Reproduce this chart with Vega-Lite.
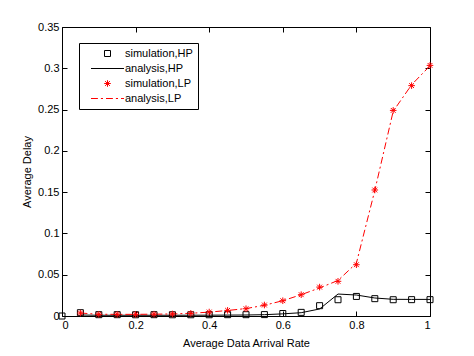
{
  "$schema": "https://vega.github.io/schema/vega-lite/v6.json",
  "autosize": "none",
  "width": 368,
  "height": 289,
  "padding": {"left": 62, "top": 27, "right": 44, "bottom": 40},
  "background": "white",
  "config": {
    "font": "Liberation Sans",
    "view": {"stroke": "black", "strokeWidth": 1},
    "axis": {
      "grid": false,
      "domain": false,
      "tickColor": "black",
      "tickSize": -5,
      "labelFont": "Liberation Sans",
      "labelFontSize": 11,
      "labelColor": "black",
      "titleFont": "Liberation Sans",
      "titleFontSize": 11,
      "titleFontWeight": "normal",
      "titleColor": "black"
    },
    "legend": {
      "labelFont": "Liberation Sans",
      "labelFontSize": 11,
      "labelColor": "black"
    }
  },
  "datasets": {
    "sim": [
      {"series": "simulation,HP", "rate": 0.0, "delay": 0.0},
      {"series": "simulation,HP", "rate": 0.05, "delay": 0.004},
      {"series": "simulation,HP", "rate": 0.1, "delay": 0.0016},
      {"series": "simulation,HP", "rate": 0.15, "delay": 0.0016},
      {"series": "simulation,HP", "rate": 0.2, "delay": 0.0015},
      {"series": "simulation,HP", "rate": 0.25, "delay": 0.0016},
      {"series": "simulation,HP", "rate": 0.3, "delay": 0.0015},
      {"series": "simulation,HP", "rate": 0.35, "delay": 0.0015},
      {"series": "simulation,HP", "rate": 0.4, "delay": 0.0015},
      {"series": "simulation,HP", "rate": 0.45, "delay": 0.0016},
      {"series": "simulation,HP", "rate": 0.5, "delay": 0.0016},
      {"series": "simulation,HP", "rate": 0.55, "delay": 0.0017},
      {"series": "simulation,HP", "rate": 0.6, "delay": 0.003},
      {"series": "simulation,HP", "rate": 0.65, "delay": 0.0044},
      {"series": "simulation,HP", "rate": 0.7, "delay": 0.0125},
      {"series": "simulation,HP", "rate": 0.75, "delay": 0.0197},
      {"series": "simulation,HP", "rate": 0.8, "delay": 0.0237},
      {"series": "simulation,HP", "rate": 0.85, "delay": 0.021},
      {"series": "simulation,HP", "rate": 0.9, "delay": 0.0197},
      {"series": "simulation,HP", "rate": 0.95, "delay": 0.0198},
      {"series": "simulation,HP", "rate": 1.0, "delay": 0.0198},
      {"series": "simulation,LP", "rate": 0.05, "delay": 0.0036},
      {"series": "simulation,LP", "rate": 0.1, "delay": 0.002},
      {"series": "simulation,LP", "rate": 0.15, "delay": 0.002},
      {"series": "simulation,LP", "rate": 0.2, "delay": 0.002},
      {"series": "simulation,LP", "rate": 0.25, "delay": 0.0022},
      {"series": "simulation,LP", "rate": 0.3, "delay": 0.0024},
      {"series": "simulation,LP", "rate": 0.35, "delay": 0.0032},
      {"series": "simulation,LP", "rate": 0.4, "delay": 0.0048},
      {"series": "simulation,LP", "rate": 0.45, "delay": 0.0068},
      {"series": "simulation,LP", "rate": 0.5, "delay": 0.0088},
      {"series": "simulation,LP", "rate": 0.55, "delay": 0.0133},
      {"series": "simulation,LP", "rate": 0.6, "delay": 0.0185},
      {"series": "simulation,LP", "rate": 0.65, "delay": 0.0258},
      {"series": "simulation,LP", "rate": 0.7, "delay": 0.035},
      {"series": "simulation,LP", "rate": 0.75, "delay": 0.042},
      {"series": "simulation,LP", "rate": 0.8, "delay": 0.0621},
      {"series": "simulation,LP", "rate": 0.85, "delay": 0.1526},
      {"series": "simulation,LP", "rate": 0.9, "delay": 0.249},
      {"series": "simulation,LP", "rate": 0.95, "delay": 0.279},
      {"series": "simulation,LP", "rate": 1.0, "delay": 0.3035}
    ],
    "analysis": [
      {"series": "analysis,HP", "rate": 0.05, "delay": 0.0012},
      {"series": "analysis,HP", "rate": 0.1, "delay": 0.0009},
      {"series": "analysis,HP", "rate": 0.2, "delay": 0.0009},
      {"series": "analysis,HP", "rate": 0.3, "delay": 0.0009},
      {"series": "analysis,HP", "rate": 0.4, "delay": 0.001},
      {"series": "analysis,HP", "rate": 0.5, "delay": 0.0012},
      {"series": "analysis,HP", "rate": 0.55, "delay": 0.0016},
      {"series": "analysis,HP", "rate": 0.6, "delay": 0.0026},
      {"series": "analysis,HP", "rate": 0.65, "delay": 0.004},
      {"series": "analysis,HP", "rate": 0.7, "delay": 0.0085},
      {"series": "analysis,HP", "rate": 0.75, "delay": 0.0266},
      {"series": "analysis,HP", "rate": 0.8, "delay": 0.0254},
      {"series": "analysis,HP", "rate": 0.85, "delay": 0.0218},
      {"series": "analysis,HP", "rate": 0.9, "delay": 0.0202},
      {"series": "analysis,HP", "rate": 0.95, "delay": 0.0201},
      {"series": "analysis,HP", "rate": 1.0, "delay": 0.0201},
      {"series": "analysis,LP", "rate": 0.05, "delay": 0.0036},
      {"series": "analysis,LP", "rate": 0.1, "delay": 0.0021},
      {"series": "analysis,LP", "rate": 0.15, "delay": 0.002},
      {"series": "analysis,LP", "rate": 0.2, "delay": 0.002},
      {"series": "analysis,LP", "rate": 0.25, "delay": 0.0022},
      {"series": "analysis,LP", "rate": 0.3, "delay": 0.0025},
      {"series": "analysis,LP", "rate": 0.35, "delay": 0.0033},
      {"series": "analysis,LP", "rate": 0.4, "delay": 0.0047},
      {"series": "analysis,LP", "rate": 0.45, "delay": 0.0067},
      {"series": "analysis,LP", "rate": 0.5, "delay": 0.009},
      {"series": "analysis,LP", "rate": 0.55, "delay": 0.013},
      {"series": "analysis,LP", "rate": 0.6, "delay": 0.0185},
      {"series": "analysis,LP", "rate": 0.65, "delay": 0.0258},
      {"series": "analysis,LP", "rate": 0.7, "delay": 0.034},
      {"series": "analysis,LP", "rate": 0.75, "delay": 0.043},
      {"series": "analysis,LP", "rate": 0.8, "delay": 0.064},
      {"series": "analysis,LP", "rate": 0.85, "delay": 0.152},
      {"series": "analysis,LP", "rate": 0.9, "delay": 0.248},
      {"series": "analysis,LP", "rate": 0.95, "delay": 0.28},
      {"series": "analysis,LP", "rate": 1.0, "delay": 0.303}
    ]
  },
  "layer": [
    {
      "data": {"name": "analysis"},
      "transform": [{"filter": "datum.series == 'analysis,HP'"}],
      "mark": {"type": "line", "strokeWidth": 1, "clip": true, "color": "black"},
      "encoding": {
        "x": {
          "field": "rate", "type": "quantitative",
          "scale": {"domain": [0, 1], "nice": false},
          "axis": {"title": "Average Data Arrival Rate", "values": [0, 0.2, 0.4, 0.6, 0.8, 1], "format": "~g", "labelPadding": 8, "titlePadding": 7}
        },
        "y": {
          "field": "delay", "type": "quantitative",
          "scale": {"domain": [0, 0.35], "nice": false, "zero": true},
          "axis": {"title": "Average Delay", "values": [0, 0.05, 0.1, 0.15, 0.2, 0.25, 0.3, 0.35], "format": "~g", "labelPadding": 8, "titlePadding": 5}
        }
      }
    },
    {
      "data": {"name": "analysis"},
      "transform": [{"filter": "datum.series == 'analysis,LP'"}],
      "mark": {"type": "line", "strokeWidth": 1, "clip": true, "strokeDash": [7, 3, 2, 3], "color": "red"},
      "encoding": {
        "x": {"field": "rate", "type": "quantitative", "axis": null},
        "y": {"field": "delay", "type": "quantitative", "axis": null}
      }
    },
    {
      "data": {"name": "sim"},
      "mark": {"type": "point", "filled": false, "strokeWidth": 1, "size": 36, "opacity": 1, "clip": false},
      "encoding": {
        "x": {
          "field": "rate", "type": "quantitative",
          "axis": {"orient": "top", "title": null, "labels": false, "values": [0, 0.2, 0.4, 0.6, 0.8, 1]}
        },
        "y": {
          "field": "delay", "type": "quantitative",
          "axis": {"orient": "right", "title": null, "labels": false, "values": [0, 0.05, 0.1, 0.15, 0.2, 0.25, 0.3, 0.35]}
        },
        "color": {
          "field": "series", "type": "nominal",
          "scale": {
            "domain": ["simulation,HP", "analysis,HP", "simulation,LP", "analysis,LP"],
            "range": ["black", "black", "red", "red"]
          },
          "legend": {
            "title": null,
            "orient": "none",
            "legendX": 17,
            "legendY": 16,
            "strokeColor": "black",
            "fillColor": "white",
            "padding": 5,
            "cornerRadius": 0,
            "symbolSize": 36,
            "symbolStrokeWidth": 1,
            "symbolFillColor": "transparent",
            "symbolOffset": 18,
            "labelOffset": 12,
            "rowPadding": 3
          }
        },
        "shape": {
          "field": "series", "type": "nominal",
          "scale": {
            "domain": ["simulation,HP", "analysis,HP", "simulation,LP", "analysis,LP"],
            "range": [
              "M-1,-1H1V1H-1Z",
              "M-5.5,0H5.5",
              "M0,-1.1V1.1M-1.1,0H1.1M-0.8,-0.8L0.8,0.8M-0.8,0.8L0.8,-0.8",
              "M-5.5,0H-3.2M-2.2,0H-1.5M-0.5,0H1.8M2.8,0H3.5M4.5,0H5.5"
            ]
          },
          "legend": {"title": null}
        }
      }
    }
  ],
  "resolve": {"axis": {"x": "independent", "y": "independent"}}
}
